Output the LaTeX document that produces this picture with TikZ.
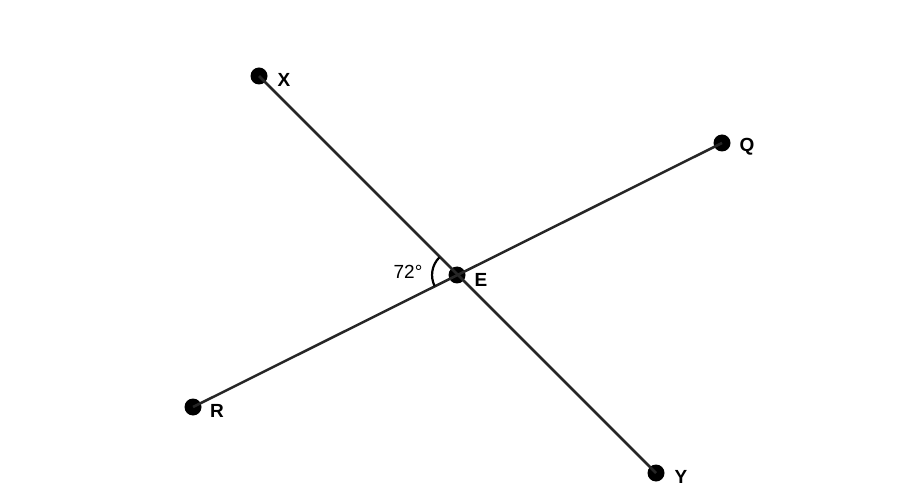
\documentclass[tikz,border=0pt]{standalone}
\usepackage{fontspec}
\setmainfont{Liberation Sans}
\begin{document}
\begin{tikzpicture}[x=1pt,y=-1pt,
  pt/.style={circle,fill=black,inner sep=0pt,minimum size=17pt},
  lab/.style={font=\fontsize{19}{22}\selectfont\bfseries},
  ln/.style={line width=2.5pt,draw=black!85}]
\useasboundingbox (0,0) rectangle (917,502);
\node[pt] (X) at (259,76) {};
\node[pt] (Q) at (722,143) {};
\node[pt] (E) at (457,275) {};
\node[pt] (R) at (193,407) {};
\node[pt] (Y) at (656,473) {};
\draw[ln] (X.center) -- (Y.center);
\draw[ln] (R.center) -- (Q.center);
\draw[ln] ([shift={(134.9:-25)}]E.center) ++(0,0);
\draw[line width=2.2pt] (E.center) ++(-17.6,-17.7) arc[start angle=225.1,end angle=153.4,radius=25];
\node[lab] (lX) at (284,80) {X};
\node[lab] (lQ) at (747,147) {Q};
\node[lab] (lE) at (481,280) {E};
\node[lab] (lR) at (217,411) {R};
\node[lab] (lY) at (681,477) {Y};
\node[font=\fontsize{19}{22}\selectfont] (ang) at (408,272) {72°};
\end{tikzpicture}
\end{document}
